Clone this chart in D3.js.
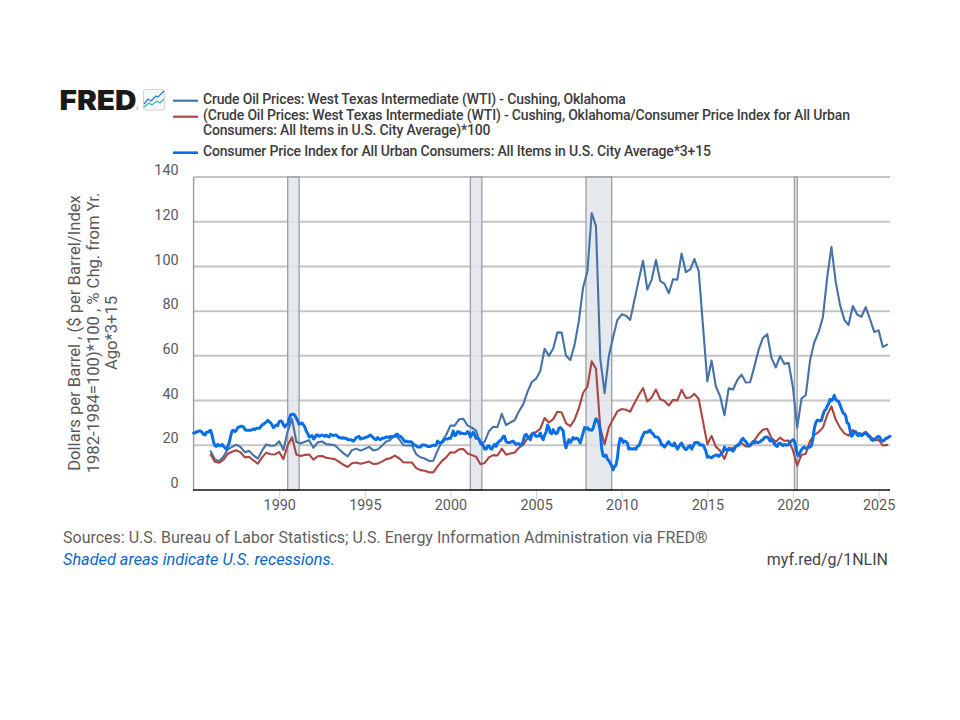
<!DOCTYPE html>
<html>
<head>
<meta charset="utf-8">
<script src="https://cdn.jsdelivr.net/npm/d3@7"></script>
<style>
html,body{margin:0;padding:0;background:#fff;}
svg{display:block;font-family:Roboto,sans-serif;}
</style>
</head>
<body>
<svg id="chart" width="960" height="720"></svg>
<script>
// Quarterly WTI crude oil price, dollars per barrel, from 1986 Q1
const oilPrice = [
17.3,13.7,12.9,15.0, 18.2,19.3,20.3,19.2, 16.9,17.5,15.5,14.0, 17.7,20.4,19.8,19.9,
21.8,17.9,26.3,31.8, 21.6,20.8,21.6,22.3, 18.9,21.3,21.7,20.5, 20.3,20.0,18.2,16.5,
15.0,17.8,18.5,17.6, 18.4,19.3,17.7,18.1, 19.8,21.7,22.4,24.6, 22.8,20.0,19.9,20.0,
16.0,14.6,14.1,13.0, 13.1,17.6,21.7,24.6, 28.8,28.8,31.6,31.9, 28.8,27.9,26.6,20.4,
21.6,26.3,28.3,28.2, 34.1,29.0,30.2,31.2, 35.2,38.3,43.9,48.3, 49.8,53.2,63.2,60.0,
63.3,70.5,70.4,60.0, 58.1,64.9,75.5,90.7, 97.9,123.9,118.0,58.7, 43.3,59.8,68.3,76.1,
78.6,77.9,76.1,85.1, 94.1,102.5,89.7,94.0, 102.9,93.5,92.2,88.0, 94.3,94.1,105.8,97.4,
98.7,103.3,97.9,73.2, 48.6,57.9,46.4,41.9, 33.4,45.5,44.9,49.2, 51.6,48.1,48.2,55.3,
62.9,68.0,69.7,59.0, 54.8,59.9,56.4,56.9, 45.8,27.9,40.9,42.5, 58.1,66.1,70.6,77.3,
95.2,108.8,93.1,82.8, 76.1,73.8,82.3,78.5, 77.5,81.8,76.4,70.7, 71.4,64.0,65.0
];

// Quarterly oil price deflated by the CPI, times 100, from 1986 Q1
const realOilPrice = [
15.8,12.6,12.2,13.6, 16.2,17.1,17.8,16.8, 14.6,14.9,13.2,11.8, 14.6,16.7,16.0,15.9,
17.0,13.8,20.0,23.6, 15.9,15.2,15.7,15.9, 13.6,15.1,15.2,14.4, 14.1,13.8,12.6,11.3,
10.3,12.0,12.3,11.7, 12.2,12.7,11.6,11.8, 12.7,13.8,14.2,15.4, 14.2,12.4,12.3,12.3,
9.8,8.9,8.6,7.9, 7.9,10.6,12.9,14.6, 16.9,16.7,18.2,18.3, 16.3,15.6,14.9,11.5,
12.1,14.6,15.6,15.4, 18.5,15.8,16.3,16.8, 18.9,20.3,23.1,25.2, 25.9,27.4,32.2,30.2,
31.7,35.0,34.7,29.8, 28.6,31.5,36.5,43.5, 46.2,57.6,54.2,27.6, 20.4,28.0,31.7,35.2,
36.2,35.9,35.0,38.9, 42.5,45.6,39.6,41.4, 44.9,40.6,39.8,37.8, 40.3,40.0,44.8,41.2,
41.4,43.0,40.7,30.6, 20.5,24.2,19.4,17.6, 13.9,18.9,18.6,20.2, 21.0,19.5,19.5,22.2,
25.0,26.9,27.4,23.2, 21.6,23.4,22.0,22.1, 17.7,10.9,15.7,16.2, 22.0,24.6,25.9,27.9,
33.6,37.4,31.5,27.9, 25.3,24.3,26.8,25.5, 24.9,26.0,24.2,22.3, 22.4,19.9,20.2
];

// Monthly CPI series (year-ago percent change, times 3, plus 15), from January 1985
const cpiChange = [
25.5,25.5,26.1,26.1,26.4,26.4,25.8,24.9,24.6,25.8,25.8,26.4,
26.7,24.3,21.6,19.8,19.5,20.4,19.8,19.8,20.4,19.5,18.9,18.3,
19.5,21.3,24,26.4,26.7,26.1,26.7,27.9,28.2,28.5,28.5,28.2,
27,26.7,26.7,26.7,26.7,27,27.3,27,27.6,27.6,27.6,28.2,
29.1,29.4,30,30.3,31.2,30.6,30,29.1,27.9,28.5,29.1,28.8,
30.6,30.9,30.6,29.1,28.2,29.1,29.4,31.8,33.6,33.9,33.9,33.3,
32.1,30.9,29.4,29.7,30,29.1,28.2,26.4,25.2,23.7,24,24.3,
22.8,23.4,24.6,24.6,24,24.3,24.6,24.3,24,24.6,24,23.7,
24.9,24.6,24.3,24.6,24.6,24,23.4,23.4,23.1,23.4,23.1,23.1,
22.5,22.5,22.5,22.2,21.9,22.5,23.4,23.7,24,22.8,23.1,23.1,
23.4,23.7,23.7,24.3,24.6,24,23.4,22.8,22.5,23.4,22.8,22.5,
23.1,23.1,23.4,23.7,23.7,23.4,24,23.7,24,24,24.9,24.9,
24,24,23.4,22.5,21.6,21.9,21.6,21.6,21.6,21.3,20.4,20.1,
19.8,19.2,19.2,19.2,20.1,20.1,20.1,19.8,19.5,19.5,19.5,19.8,
20.1,19.8,20.1,21.9,21.3,21,21.3,21.9,22.8,22.8,22.8,23.1,
23.1,24.6,26.4,24.3,24.6,26.1,26.1,25.2,25.5,25.2,25.2,25.2,
26.1,25.5,23.7,24.9,25.8,24.6,23.1,23.1,22.8,21.3,20.7,19.8,
18.3,18.3,19.5,19.8,18.6,18.3,19.5,20.4,19.5,21,21.6,22.2,
22.8,24,24,21.6,21.3,21.3,21.3,21.6,21.9,21,20.4,20.7,
20.7,20.1,20.1,21.9,24.3,24.9,24,23.1,22.5,24.6,25.5,24.9,
24,24,24.3,25.5,23.4,22.5,24.6,25.8,29.1,27.9,25.5,25.2,
27,25.8,25.2,25.5,27.6,27.9,27.3,26.4,21.3,18.9,21,22.5,
21.3,22.2,23.4,22.8,23.1,23.1,22.2,21,23.4,25.5,27.9,27.3,
27.9,27,27,26.7,27.6,30,31.8,31.2,29.7,26.1,18.3,15.3,
15,15.6,13.8,13.2,12,10.8,9,10.5,11.1,14.4,20.4,23.1,
22.8,21.3,21.9,21.6,21,18.3,18.6,18.3,18.3,18.6,18.3,19.5,
19.8,21.3,23.1,24.6,25.8,25.8,25.8,26.4,26.7,25.5,25.2,24,
23.7,23.7,23.1,21.9,20.1,20.1,19.2,20.1,21,21.6,20.4,20.1,
19.8,21,19.5,18.3,19.2,20.4,21,19.5,18.6,18,18.6,19.5,
19.8,18.3,19.5,21,21.3,21.3,21,20.1,20.1,20.1,18.9,17.4,
14.7,15,14.7,14.4,15,15.3,15.6,15.6,15,15.6,16.5,17.1,
19.2,18,17.7,18.3,18,18,17.4,18.3,19.5,19.8,20.1,21.3,
22.5,23.1,22.2,21.6,20.7,19.8,20.1,20.7,21.6,21,21.6,21.3,
21.3,21.6,22.2,22.5,23.4,23.7,23.7,23.1,21.9,22.5,21.6,20.7,
19.8,19.5,20.7,21,20.4,19.8,20.4,20.1,20.1,20.4,21.3,21.9,
22.5,21.9,19.5,15.9,15.3,16.8,18,18.9,19.2,18.6,18.6,19.2,
19.2,20.1,22.8,27.6,30,31.2,31.2,30.9,31.2,33.6,35.4,36,
37.5,38.7,40.5,39.9,40.8,42.3,40.5,39.9,39.6,38.1,36.3,34.5,
34.2,33,30,29.7,27,24,24.6,26.1,26.1,24.6,24.3,25.2,
24.3,24.6,25.5,25.2,24.9,24,23.7,22.5,22.2,22.8,23.1,23.7,
24,23.4,22.2,21.9,22.2,23.1,23.1,23.7,24
];

// NBER recession start and end months
const recessions = [
  ["1990-07-01","1991-03-01"],
  ["2001-03-01","2001-11-01"],
  ["2007-12-01","2009-06-01"],
  ["2020-02-01","2020-04-01"]
];

const yearTicks = [1990,1995,2000,2005,2010,2015,2020,2025];
const valueTicks = [0,20,40,60,80,100,120,140];

const legendEntries = [
  {lines:["Crude Oil Prices: West Texas Intermediate (WTI) - Cushing, Oklahoma"], color:"#4572a7", width:2, top:99},
  {lines:["(Crude Oil Prices: West Texas Intermediate (WTI) - Cushing, Oklahoma/Consumer Price Index for All Urban",
          "Consumers: All Items in U.S. City Average)*100"], color:"#aa4643", width:2, top:115},
  {lines:["Consumer Price Index for All Urban Consumers: All Items in U.S. City Average*3+15"], color:"#0a6fe6", width:3, top:151}
];

const axisTitle = ["Dollars per Barrel , ($ per Barrel/Index",
                   "1982-1984=100)*100 , % Chg. from Yr.",
                   "Ago*3+15"];

const svg = d3.select("#chart");
svg.append("rect").attr("width",960).attr("height",720).attr("fill","#fff");

const plot = {left:193.6, right:890, top:177, bottom:490};
const utc = s => new Date(s + "T00:00:00Z");

const x = d3.scaleUtc()
  .domain([utc("1985-01-01"), utc("2025-09-01")])
  .range([plot.left, plot.right]);
const y = d3.scaleLinear()
  .domain([0,140])
  .range([plot.bottom, plot.top]);

const monthSeries = (values, startISO, step) =>
  values.map((v,i) => ({date:d3.utcMonth.offset(utc(startISO), i*step), value:v}));

// Horizontal grid
svg.append("g").selectAll("line").data(valueTicks.filter(d => d>0)).join("line")
  .attr("x1",plot.left).attr("x2",plot.right)
  .attr("y1",d=>y(d)).attr("y2",d=>y(d))
  .attr("stroke","#c4c4c4").attr("stroke-width",2);

// Recession bands
const bands = svg.append("g");
bands.selectAll("rect").data(recessions).join("rect")
  .attr("x",d=>x(utc(d[0])))
  .attr("y",plot.top)
  .attr("width",d=>x(utc(d[1]))-x(utc(d[0])))
  .attr("height",plot.bottom-plot.top)
  .attr("fill","#e1e5ea").attr("fill-opacity",0.85)
  .attr("stroke","#9a9da1").attr("stroke-width",1.3);

// Left vertical axis line
svg.append("line")
  .attr("x1",plot.left).attr("x2",plot.left)
  .attr("y1",plot.top).attr("y2",plot.bottom)
  .attr("stroke","#9a9a9a").attr("stroke-width",1.4);

// Value axis labels sit just above their gridlines
const yAxis = d3.axisLeft(y).tickValues(valueTicks).tickSize(0).tickPadding(15);
const yG = svg.append("g").attr("transform",`translate(${plot.left},0)`).call(yAxis);
yG.select(".domain").remove();
yG.selectAll("text")
  .attr("dy","-0.16em")
  .attr("fill","#595959").style("font-size","14.4px").style("font-family","Roboto,sans-serif");

// Time axis
const xAxis = d3.axisBottom(x).tickValues(yearTicks.map(v=>utc(v+"-01-01")))
  .tickFormat(d3.utcFormat("%Y")).tickSize(9).tickPadding(1);
const xG = svg.append("g").attr("transform",`translate(0,${plot.bottom})`).call(xAxis);
xG.select(".domain").remove();
xG.selectAll("line").attr("stroke","#c5d6ef").attr("stroke-width",1);
xG.selectAll("text").attr("fill","#595959").style("font-size","14.4px").style("font-family","Roboto,sans-serif");

// Baseline
svg.append("line")
  .attr("x1",plot.left-0.7).attr("x2",plot.right)
  .attr("y1",plot.bottom).attr("y2",plot.bottom)
  .attr("stroke","#111").attr("stroke-width",1.6);

// Data lines
const line = d3.line().x(d=>x(d.date)).y(d=>y(d.value)).curve(d3.curveLinear);
const drawSeries = (data,color,width) => svg.append("path")
  .datum(data).attr("d",line).attr("fill","none")
  .attr("stroke",color).attr("stroke-width",width)
  .attr("stroke-linejoin","round").attr("stroke-linecap","round");

drawSeries(monthSeries(oilPrice,"1986-01-01",3), legendEntries[0].color, 2.1);
drawSeries(monthSeries(realOilPrice,"1986-01-01",3), legendEntries[1].color, 2.1);
drawSeries(monthSeries(cpiChange,"1985-01-01",1), legendEntries[2].color, 3);

// Logo wordmark and icon
svg.append("text").attr("x",59.5).attr("y",109.5).text("FRED")
  .attr("fill","#1a1a1a")
  .attr("textLength",77).attr("lengthAdjust","spacingAndGlyphs")
  .style("font-family","Inter,Roboto,sans-serif").style("font-weight",900)
  .style("font-size","27px");
svg.append("text").attr("x",136).attr("y",110).text("®").attr("fill","#777").style("font-size","3px");

const icon = svg.append("g").attr("transform","translate(143,89)");
icon.append("rect").attr("x",0.5).attr("y",0.5).attr("width",21).attr("height",20.5).attr("rx",1.5)
  .attr("fill","#f6f7f8").attr("stroke","#d4d4d4");
const iconLine = d3.line();
icon.append("path").attr("d",iconLine([[1,15],[5,10],[8,12],[13,7],[15,8],[21,2]]))
  .attr("fill","none").attr("stroke","#2a7de1").attr("stroke-width",1.3);
icon.append("path").attr("d",iconLine([[1,18],[6,14],[9,16],[14,12],[17,14],[21,10]]))
  .attr("fill","none").attr("stroke","#3fbfa0").attr("stroke-width",1.2);

// Legend
const legend = svg.append("g");
legendEntries.forEach(e => {
  legend.append("line")
    .attr("x1",173).attr("x2",198)
    .attr("y1",e.top+1.7).attr("y2",e.top+1.7)
    .attr("stroke",e.color).attr("stroke-width",e.width===3?2.6:2.2);
  e.lines.forEach((t,i) => legend.append("text")
    .attr("x",203).attr("y",e.top+4.5+i*15.5)
    .attr("fill","#3c3c3c")
    .style("font-size","14px").style("font-weight",500)
    .style("letter-spacing","-0.17px")
    .text(t));
});

// Rotated axis title
const titleG = svg.append("g").attr("transform","translate(80,333) rotate(-90)");
axisTitle.forEach((t,i) => titleG.append("text")
  .attr("x",0).attr("y",i*18.5).attr("text-anchor","middle")
  .attr("fill","#595959").style("font-size","16.6px").text(t));

// Footer notes
svg.append("text").attr("x",63).attr("y",542.5).attr("fill","#5f5f5f")
  .style("font-size","16px")
  .text("Sources: U.S. Bureau of Labor Statistics; U.S. Energy Information Administration via FRED®");
svg.append("text").attr("x",63).attr("y",564.5).attr("fill","#0a66cc")
  .style("font-size","16.3px").style("font-style","italic")
  .text("Shaded areas indicate U.S. recessions.");
svg.append("text").attr("x",888).attr("y",564.5).attr("text-anchor","end").attr("fill","#444")
  .style("font-size","16px").text("myf.red/g/1NLIN");
</script>
</body>
</html>
